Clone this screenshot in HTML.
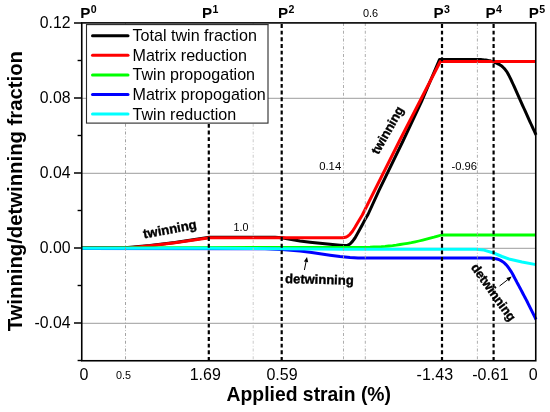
<!DOCTYPE html>
<html><head><meta charset="utf-8"><title>Twinning/detwinning fraction</title>
<style>
html,body{margin:0;padding:0;background:#fff;}
body{width:550px;height:412px;overflow:hidden;}
text{fill:#000;}
.r{font-family:"Liberation Sans",Arial,Helvetica,sans-serif;}
.a{stroke:#000;stroke-width:0.38px;}
.b{font-family:"Liberation Sans",Arial,Helvetica,sans-serif;font-weight:bold;}
</style></head><body>
<svg width="550" height="412" viewBox="0 0 550 412" style="display:block">
<rect width="550" height="412" fill="#fff"/>
<line x1="82" x2="536" y1="98.40" y2="98.40" stroke="#b0b0b0" stroke-width="1.1"/>
<line x1="82" x2="536" y1="173.40" y2="173.40" stroke="#b0b0b0" stroke-width="1.1"/>
<line x1="82" x2="536" y1="248.40" y2="248.40" stroke="#b0b0b0" stroke-width="1.1"/>
<line x1="82" x2="536" y1="323.40" y2="323.40" stroke="#b0b0b0" stroke-width="1.1"/>
<polyline points="82.0,247.8 125.0,247.8 150.0,245.4 175.0,242.4 209.5,237.3 275.0,237.3 281.7,237.8 290.0,239.3 300.0,241.0 310.0,242.2 320.0,243.2 330.0,244.3 340.0,245.2 345.0,245.6 347.5,245.4 350.0,244.0 352.5,241.4 355.0,238.0 357.5,233.6 360.0,229.0 362.6,224.2 365.0,219.6 368.0,214.5 379.0,190.3 403.0,141.0 422.2,100.0 439.5,59.5 476.0,59.5 477.0,59.5 478.0,59.5 479.0,59.6 480.0,59.6 481.0,59.6 482.0,59.7 483.0,59.8 484.0,59.9 485.0,60.0 486.0,60.1 487.0,60.2 488.0,60.4 489.0,60.6 490.0,60.8 491.0,61.1 492.0,61.4 493.0,61.8 494.0,62.1 495.0,62.5 496.0,62.9 497.0,63.3 498.0,63.8 499.0,64.3 500.0,64.9 501.0,65.6 502.0,66.3 503.0,67.2 504.0,68.2 505.0,69.3 506.0,70.6 507.0,72.0 508.0,73.7 509.0,75.6 510.0,77.6 511.0,79.7 512.0,81.8 513.0,84.0 514.0,86.2 515.0,88.4 516.0,90.6 517.0,92.8 518.0,95.1 519.0,97.4 520.0,99.6 521.0,101.8 522.0,104.1 523.0,106.3 524.0,108.5 525.0,110.7 526.0,112.9 527.0,115.1 528.0,117.4 529.0,119.6 530.0,121.8 531.0,124.0 532.0,126.1 533.0,128.3 534.0,130.5 535.0,132.7 536.0,134.8" fill="none" stroke="#000" stroke-width="3.0" stroke-linejoin="round"/>
<polyline points="82.0,248.2 125.0,248.2 150.0,245.8 175.0,242.8 209.5,237.8 343.0,237.8 345.5,237.3 347.5,236.4 350.0,234.3 352.5,231.2 355.0,227.2 357.2,223.5 359.3,219.9 362.3,215.0 399.4,141.0 440.3,61.5 536.0,61.5" fill="none" stroke="#f00" stroke-width="3.0" stroke-linejoin="round"/>
<polyline points="82.0,248.2 180.0,247.6 260.0,247.3 370.0,247.1 373.8,247.0 377.5,246.9 381.3,246.7 385.1,246.4 388.8,246.0 392.6,245.6 396.3,245.1 400.1,244.5 403.9,243.9 407.6,243.3 411.4,242.6 415.2,241.8 418.9,241.0 422.7,240.1 426.4,239.2 430.2,238.2 434.0,237.2 437.7,236.1 441.5,235.0 536.0,235.0" fill="none" stroke="#0f0" stroke-width="2.8" stroke-linejoin="round"/>
<polyline points="82.0,248.6 265.0,248.8 281.7,249.4 300.0,250.9 310.0,252.3 320.0,253.8 330.0,255.2 340.0,256.5 350.0,257.5 358.0,258.0 488.0,258.0 489.0,258.0 490.0,258.1 491.0,258.1 492.0,258.2 493.0,258.3 494.0,258.4 495.0,258.6 496.0,258.8 497.0,259.0 498.0,259.3 499.0,259.7 500.0,260.1 501.0,260.6 502.0,261.2 503.0,261.9 504.0,262.7 505.0,263.6 506.0,264.6 507.0,265.7 508.0,267.0 509.0,268.3 510.0,269.8 511.0,271.3 512.0,273.0 513.0,274.8 514.0,276.7 515.0,278.6 516.0,280.5 517.0,282.4 518.0,284.2 519.0,286.1 520.0,288.0 521.0,289.9 522.0,291.8 523.0,293.7 524.0,295.6 525.0,297.5 526.0,299.4 527.0,301.3 528.0,303.3 529.0,305.3 530.0,307.3 531.0,309.3 532.0,311.3 533.0,313.3 534.0,315.4 535.0,317.4 536.0,319.5" fill="none" stroke="#00f" stroke-width="3.0" stroke-linejoin="round"/>
<polyline points="82.0,248.2 210.0,248.3 281.7,248.7 345.0,249.2 476.0,249.2 484.0,250.1 493.6,253.0 502.0,256.5 510.0,259.3 522.0,262.0 536.0,264.6" fill="none" stroke="#0ff" stroke-width="3.0" stroke-linejoin="round"/>
<line x1="125.5" x2="125.5" y1="23" y2="361" stroke="#999" stroke-width="0.9" stroke-dasharray="3 2.1 0.7 1.95"/>
<line x1="253.2" x2="253.2" y1="23" y2="361" stroke="#c4c4c4" stroke-width="0.9" stroke-dasharray="3 2.1 0.7 1.95"/>
<line x1="343.5" x2="343.5" y1="23" y2="361" stroke="#a4a4a4" stroke-width="0.9" stroke-dasharray="3 2.1 0.7 1.95"/>
<line x1="365.3" x2="365.3" y1="23" y2="361" stroke="#a4a4a4" stroke-width="0.9" stroke-dasharray="3 2.1 0.7 1.95"/>
<line x1="477.4" x2="477.4" y1="23" y2="361" stroke="#a4a4a4" stroke-width="0.9" stroke-dasharray="3 2.1 0.7 1.95"/>
<line x1="208.8" x2="208.8" y1="23" y2="361" stroke="#000" stroke-width="2.2" stroke-dasharray="3.9 2.76" stroke-dashoffset="5.66"/>
<line x1="281.7" x2="281.7" y1="23" y2="361" stroke="#000" stroke-width="2.2" stroke-dasharray="3.9 2.76" stroke-dashoffset="5.66"/>
<line x1="442" x2="442" y1="23" y2="361" stroke="#000" stroke-width="2.2" stroke-dasharray="3.9 2.76" stroke-dashoffset="5.66"/>
<line x1="493.6" x2="493.6" y1="23" y2="361" stroke="#000" stroke-width="2.2" stroke-dasharray="3.9 2.76" stroke-dashoffset="5.66"/>
<rect x="81.75" y="22.9" width="454" height="337.85" fill="none" stroke="#000" stroke-width="1.6"/>
<line x1="74" x2="81.8" y1="23.0" y2="23.0" stroke="#000" stroke-width="1.5"/>
<line x1="74" x2="81.8" y1="98.0" y2="98.0" stroke="#000" stroke-width="1.5"/>
<line x1="74" x2="81.8" y1="173.0" y2="173.0" stroke="#000" stroke-width="1.5"/>
<line x1="74" x2="81.8" y1="248.0" y2="248.0" stroke="#000" stroke-width="1.5"/>
<line x1="74" x2="81.8" y1="323.0" y2="323.0" stroke="#000" stroke-width="1.5"/>
<line x1="77.6" x2="81.8" y1="60.5" y2="60.5" stroke="#000" stroke-width="1.4"/>
<line x1="77.6" x2="81.8" y1="135.5" y2="135.5" stroke="#000" stroke-width="1.4"/>
<line x1="77.6" x2="81.8" y1="210.5" y2="210.5" stroke="#000" stroke-width="1.4"/>
<line x1="77.6" x2="81.8" y1="285.5" y2="285.5" stroke="#000" stroke-width="1.4"/>
<line x1="77.6" x2="81.8" y1="360.5" y2="360.5" stroke="#000" stroke-width="1.4"/>
<line x1="86" x2="268.5" y1="24.5" y2="24.5" stroke="#666" stroke-width="1.6"/>
<rect x="86.5" y="24.6" width="181.5" height="98.5" fill="#fff" stroke="#2a2a2a" stroke-width="1.1"/>
<line x1="92.5" x2="128" y1="35.7" y2="35.7" stroke="#000" stroke-width="3" stroke-linecap="round"/>
<text x="132.5" y="41.1" font-size="16.1" class="r">Total twin fraction</text>
<line x1="92.5" x2="128" y1="55.3" y2="55.3" stroke="#f00" stroke-width="3" stroke-linecap="round"/>
<text x="132.5" y="60.7" font-size="16.1" class="r">Matrix reduction</text>
<line x1="92.5" x2="128" y1="74.9" y2="74.9" stroke="#0f0" stroke-width="3" stroke-linecap="round"/>
<text x="132.5" y="80.3" font-size="16.1" class="r">Twin propogation</text>
<line x1="92.5" x2="128" y1="94.5" y2="94.5" stroke="#00f" stroke-width="3" stroke-linecap="round"/>
<text x="132.5" y="99.9" font-size="16.1" class="r">Matrix propogation</text>
<line x1="92.5" x2="128" y1="114.1" y2="114.1" stroke="#0ff" stroke-width="3" stroke-linecap="round"/>
<text x="132.5" y="119.5" font-size="16.1" class="r">Twin reduction</text>
<text x="70.5" y="28.0" font-size="15.8" text-anchor="end" class="r">0.12</text>
<text x="70.5" y="103.0" font-size="15.8" text-anchor="end" class="r">0.08</text>
<text x="70.5" y="178.0" font-size="15.8" text-anchor="end" class="r">0.04</text>
<text x="70.5" y="253.0" font-size="15.8" text-anchor="end" class="r">0.00</text>
<text x="70.5" y="328.0" font-size="15.8" text-anchor="end" class="r">-0.04</text>
<text x="84" y="380" font-size="16" text-anchor="middle" class="r">0</text>
<text x="205.3" y="380" font-size="16" text-anchor="middle" class="r">1.69</text>
<text x="282" y="380" font-size="16" text-anchor="middle" class="r">0.59</text>
<text x="434.8" y="380" font-size="16" text-anchor="middle" class="r">-1.43</text>
<text x="490.4" y="380" font-size="16" text-anchor="middle" class="r">-0.61</text>
<text x="533.2" y="380" font-size="16" text-anchor="middle" class="r">0</text>
<text x="123.4" y="379.1" font-size="10.8" text-anchor="middle" class="r">0.5</text>
<text x="370.6" y="16.7" font-size="10.9" text-anchor="middle" class="r">0.6</text>
<text x="241" y="231" font-size="10.7" text-anchor="middle" class="r">1.0</text>
<text x="330.2" y="170" font-size="11.3" text-anchor="middle" class="r">0.14</text>
<text x="464.2" y="170" font-size="11.2" text-anchor="middle" class="r">-0.96</text>
<text x="80.3" y="17.6" font-size="15.2" class="b">P<tspan dy="-4.8" dx="0.3" font-size="10.6">0</tspan></text>
<text x="202" y="17.6" font-size="15.2" class="b">P<tspan dy="-4.8" dx="0.3" font-size="10.6">1</tspan></text>
<text x="278" y="17.6" font-size="15.2" class="b">P<tspan dy="-4.8" dx="0.3" font-size="10.6">2</tspan></text>
<text x="433.5" y="17.6" font-size="15.2" class="b">P<tspan dy="-4.8" dx="0.3" font-size="10.6">3</tspan></text>
<text x="485.5" y="17.6" font-size="15.2" class="b">P<tspan dy="-4.8" dx="0.3" font-size="10.6">4</tspan></text>
<text x="528.8" y="17.6" font-size="15.2" class="b">P<tspan dy="-4.8" dx="0.3" font-size="10.6">5</tspan></text>
<text x="226.6" y="401" font-size="20.4" textLength="164.4" lengthAdjust="spacingAndGlyphs" class="b">Applied strain (%)</text>
<text transform="translate(22,331.3) rotate(-90)" font-size="20.3" textLength="280.3" lengthAdjust="spacingAndGlyphs" class="b">Twinning/detwinning fraction</text>
<text transform="translate(144,238.5) rotate(-10.5)" font-size="13.2" class="b a">twinning</text>
<text transform="translate(285,283) rotate(1.5)" font-size="13" class="b a">detwinning</text>
<text transform="translate(378.3,155.2) rotate(-60.5)" font-size="12.8" class="b a">twinning</text>
<text transform="translate(470.5,267.5) rotate(54.5)" font-size="12.7" class="b a">detwinning</text>
<line x1="304.4" y1="270" x2="306.0" y2="261.9" stroke="#000" stroke-width="1"/><polygon points="307,257 308.2,262.3 303.9,261.5" fill="#000"/>
<line x1="499.6" y1="286" x2="507.7" y2="279.7" stroke="#000" stroke-width="1"/><polygon points="511.6,276.6 509.0,281.4 506.3,278.0" fill="#000"/>
</svg>
</body></html>
